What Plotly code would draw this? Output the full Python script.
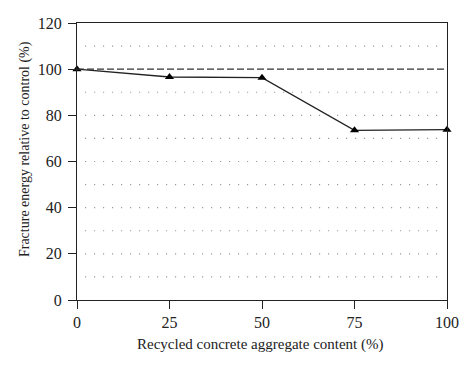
import plotly.graph_objects as go

rca_content = [0, 25, 50, 75, 100]
fracture_energy = [100, 96.6, 96.3, 73.5, 73.8]
control_level = 100
x_ticks = [0, 25, 50, 75, 100]
y_ticks = [0, 20, 40, 60, 80, 100, 120]
grid_levels = [10, 20, 30, 40, 50, 60, 70, 80, 90, 110]

font_family = "Liberation Serif, Times New Roman, serif"

fig = go.Figure()

for g in grid_levels:
    fig.add_shape(type="line", xref="x domain", yref="y", x0=0.022, x1=0.986, y0=g, y1=g,
                  line=dict(color="#8a8a8a", width=1.2, dash="1px,8px"), layer="below")

fig.add_shape(type="line", xref="x domain", yref="y", x0=0, x1=1, y0=control_level, y1=control_level,
              line=dict(color="#333333", width=1.3, dash="7px,3px"))

fig.add_trace(go.Scatter(
    x=rca_content, y=fracture_energy, mode="lines+markers",
    line=dict(color="#222222", width=1.3),
    marker=dict(symbol="triangle-up", size=8, color="black"),
    cliponaxis=False, showlegend=False,
))

fig.add_annotation(text="Fracture energy relative to control (%)", xref="paper", yref="paper",
                   x=-0.1405, y=0.545, xanchor="center", yanchor="middle", textangle=-90,
                   showarrow=False, font=dict(size=14, color="#222222"))
fig.add_annotation(text="Recycled concrete aggregate content (%)", xref="paper", yref="paper",
                   x=0.497, y=-0.162, xanchor="center", yanchor="middle",
                   showarrow=False, font=dict(size=15, color="#222222"))

fig.update_layout(
    width=474, height=369,
    margin=dict(l=69, r=35, t=15, b=77, autoexpand=False),
    plot_bgcolor="white", paper_bgcolor="white",
    font=dict(family=font_family, size=16, color="#222222"),
    xaxis=dict(
        range=[0, 100], tickvals=x_ticks, ticks="outside", ticklen=8, tickcolor="#222222",
        showline=True, linecolor="#222222", linewidth=1.3, mirror=True, showgrid=False,
        zeroline=False, tickfont=dict(size=16), automargin=False,
    ),
    yaxis=dict(
        range=[0, 120], tickvals=y_ticks, ticks="outside", ticklen=8, tickcolor="#222222",
        showline=True, linecolor="#222222", linewidth=1.3, mirror=True, showgrid=False,
        zeroline=False, tickfont=dict(size=16), automargin=False, ticklabelstandoff=3,
    ),
)

fig.write_html("out.html")
